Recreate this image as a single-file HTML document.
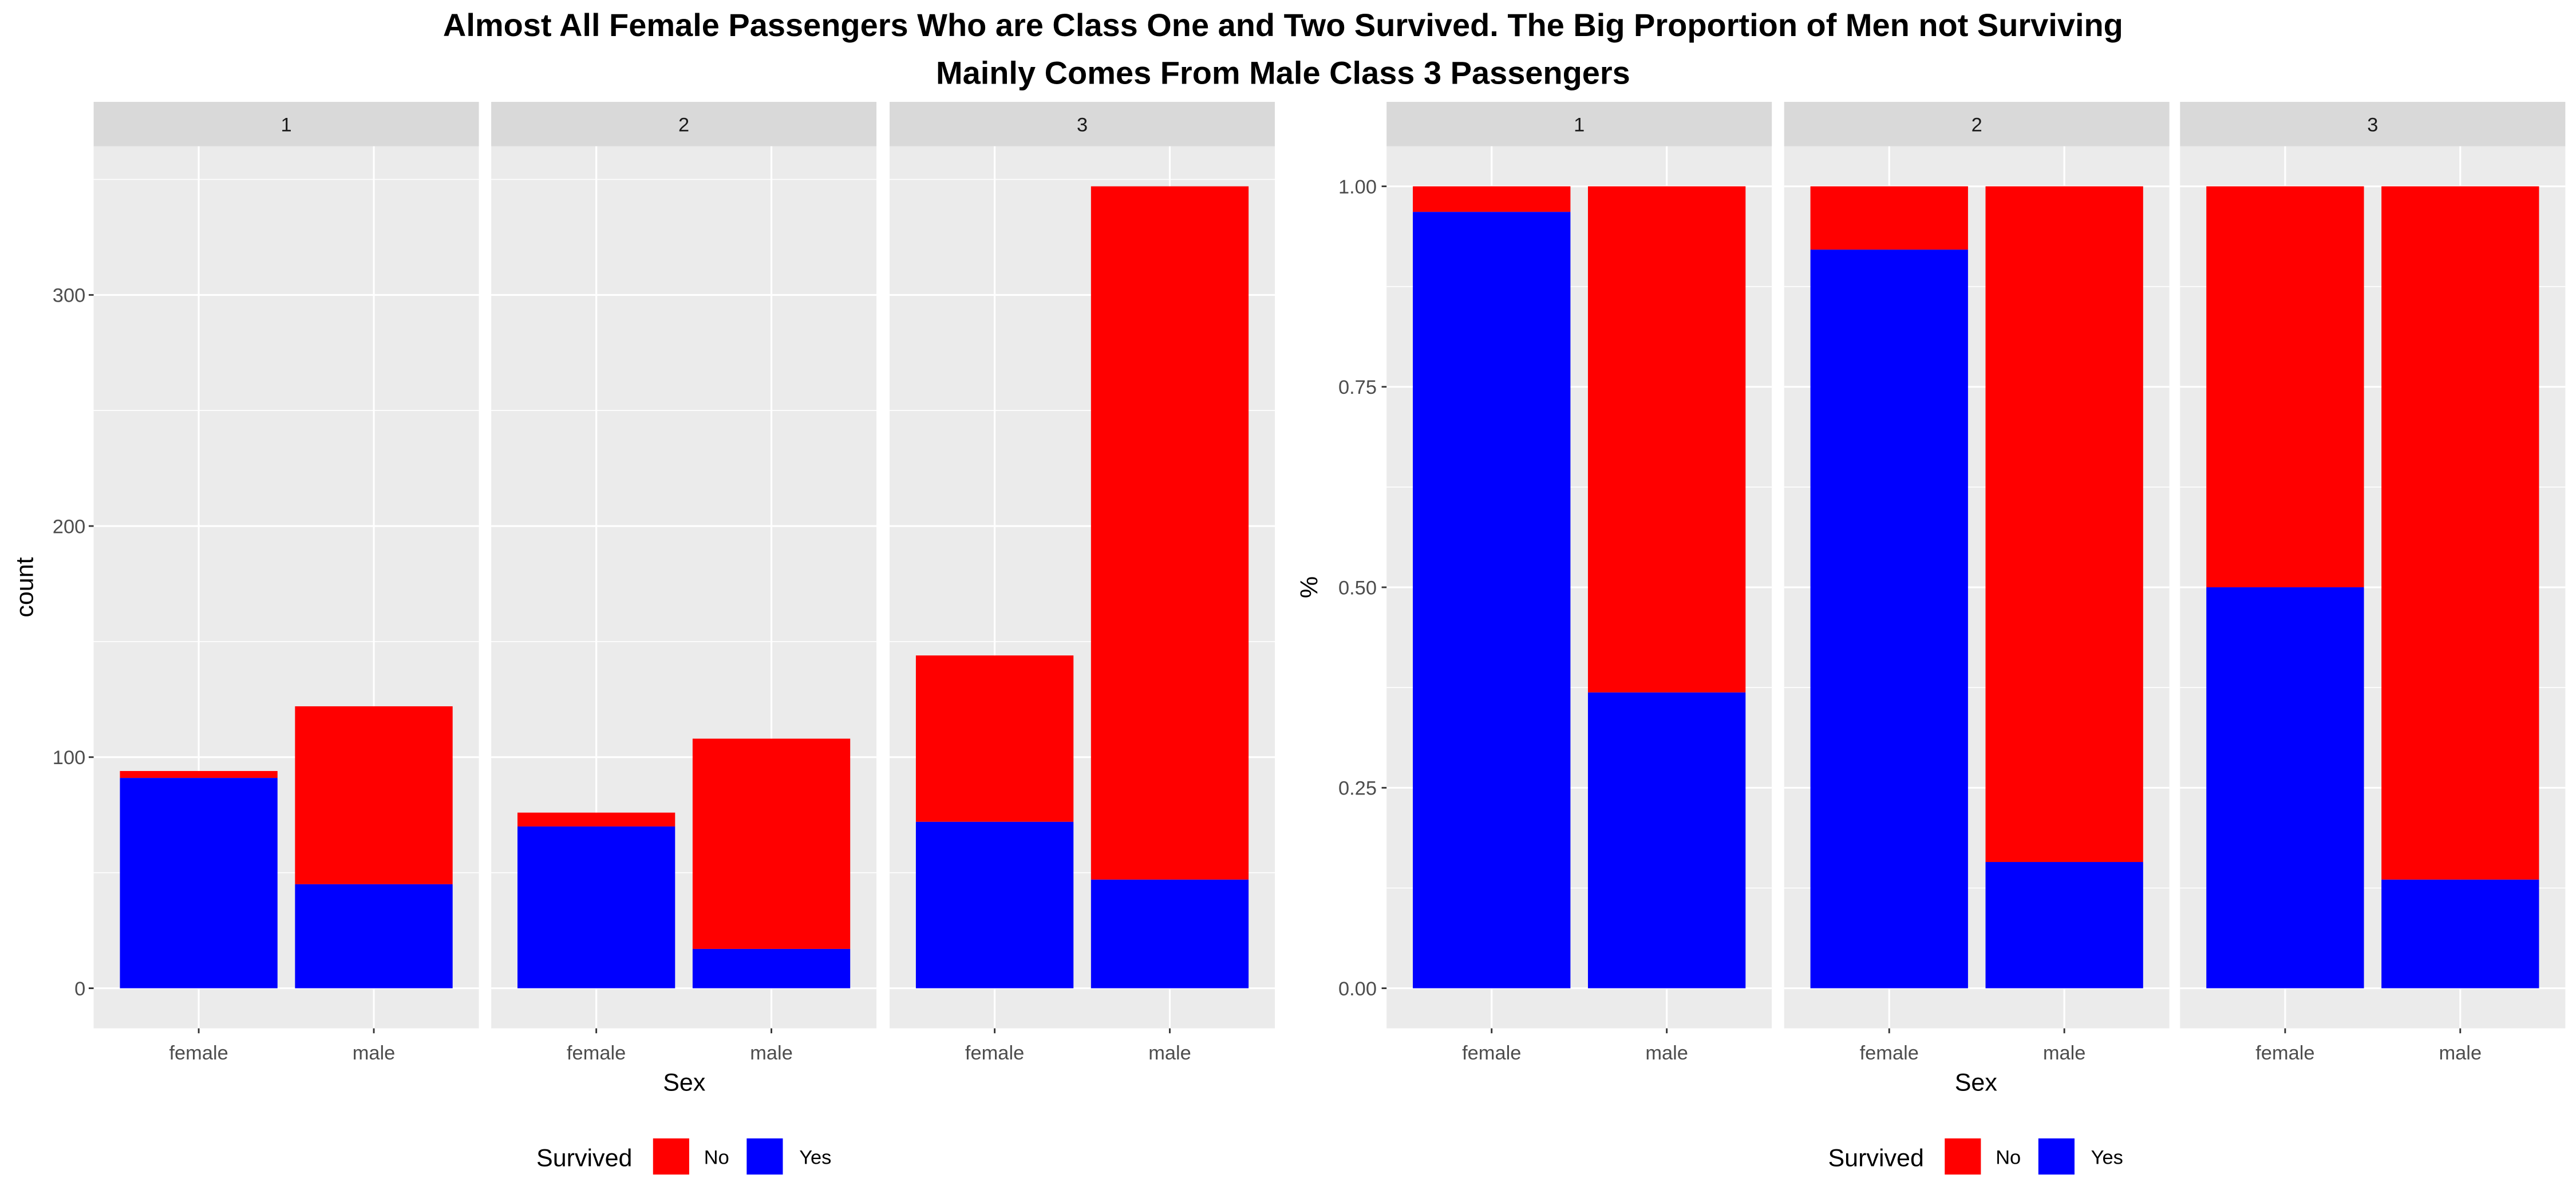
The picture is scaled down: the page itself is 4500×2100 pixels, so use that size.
<!DOCTYPE html>
<html><head><meta charset="utf-8"><style>
html,body{margin:0;padding:0;background:#fff;}
svg{display:block;font-family:"Liberation Sans",Arial,sans-serif;}
</style></head><body>
<svg id="chart" width="4500" height="2100" viewBox="0 0 1568 731.7" xmlns="http://www.w3.org/2000/svg">
<text x="781" y="22" text-anchor="middle" font-size="19.5" font-weight="bold" fill="#000">Almost All Female Passengers Who are Class One and Two Survived. The Big Proportion of Men not Surviving</text>
<text x="781" y="51" text-anchor="middle" font-size="19.5" font-weight="bold" fill="#000">Mainly Comes From Male Class 3 Passengers</text>
</svg>
<script>
const classes = ["1","2","3"];
const sexes = ["female","male"];
// counts per class: [female, male]
const survivedYes = [[91,45],[70,17],[72,47]];
const survivedNo = [[3,77],[6,91],[72,300]];
const countTicks = [0,100,200,300];
const countTickLabels = ["0","100","200","300"];
const propTicks = [0,0.25,0.5,0.75,1];
const propTickLabels = ["0.00","0.25","0.50","0.75","1.00"];

const NS = "http://www.w3.org/2000/svg";
const svg = document.getElementById("chart");
function mk(tag, attrs, parent){
  const e = document.createElementNS(NS, tag);
  for (const k in attrs) e.setAttribute(k, attrs[k]);
  (parent||svg).appendChild(e);
  return e;
}
const panelTop = 89, panelBot = 626, stripTop = 62, panelW = 234.5;

function drawPlot(prefix, panelLefts, proportional, ticks, tickLabels, yTitle, yTitleX, yLabelX){
  const g = mk("g", {});
  
  
  let dmax = 0;
  if (proportional) dmax = 1;
  else for (let c=0;c<3;c++) for (let s=0;s<2;s++) dmax = Math.max(dmax, survivedYes[c][s]+survivedNo[c][s]);
  const pad = dmax*0.05, lo = -pad, hi = dmax+pad;
  const y = v => panelBot - (v-lo)/(hi-lo)*(panelBot-panelTop);
  const minors = [];
  for (let i=0;i<ticks.length-1;i++) minors.push((ticks[i]+ticks[i+1])/2);
  const step = ticks[1]-ticks[0];
  if (ticks[ticks.length-1]+step/2 < hi) minors.push(ticks[ticks.length-1]+step/2);
  panelLefts.forEach((px, c) => {
    const x = v => px + (v - 0.4)/2.2*panelW; // v: 1 or 2 discrete
    const bg = mk("rect", {x:px, y:panelTop, width:panelW, height:panelBot-panelTop, fill:"#ebebeb"}, g);
    
    
    const st = mk("rect", {x:px, y:stripTop, width:panelW, height:panelTop-stripTop, fill:"#d9d9d9"}, g);
    
    
    const stt = mk("text", {x:px+panelW/2, y:80, "text-anchor":"middle", "font-size":12, fill:"#1a1a1a"}, g);
    stt.textContent = classes[c];
    
    
    minors.forEach(m => { const l = mk("line", {x1:px, x2:px+panelW, y1:y(m), y2:y(m), stroke:"#fff", "stroke-width":0.55}, g);
      
       });
    ticks.forEach(t => { const l = mk("line", {x1:px, x2:px+panelW, y1:y(t), y2:y(t), stroke:"#fff", "stroke-width":1.1}, g);
      
       });
    sexes.forEach((s, i) => {
      const cx = x(i+1);
      const l = mk("line", {x1:cx, x2:cx, y1:panelTop, y2:panelBot, stroke:"#fff", "stroke-width":1.1}, g);
      
      
      const yes = survivedYes[c][i], no = survivedNo[c][i], tot = yes+no;
      const yv = proportional ? yes/tot : yes;
      const tv = proportional ? 1 : tot;
      const bw = 0.9/2.2*panelW;
      const rn = mk("rect", {x:cx-bw/2, y:y(tv), width:bw, height:y(yv)-y(tv), fill:"#ff0000"}, g);
      
      
      const ry = mk("rect", {x:cx-bw/2, y:y(yv), width:bw, height:y(0)-y(yv), fill:"#0000ff"}, g);
      
      
      const tk = mk("line", {x1:cx, x2:cx, y1:panelBot, y2:panelBot+3, stroke:"#333", "stroke-width":1}, g);
      
      
      const tl = mk("text", {x:cx, y:645, "text-anchor":"middle", "font-size":12, fill:"#4d4d4d"}, g);
      tl.textContent = s;
      
      
    });
  });
  const p0 = panelLefts[0];
  ticks.forEach((t, i) => {
    const tk = mk("line", {x1:p0-3, x2:p0, y1:y(t), y2:y(t), stroke:"#333", "stroke-width":1}, g);
    
    
    const tl = mk("text", {x:yLabelX, y:y(t)+4.3, "text-anchor":"end", "font-size":12, fill:"#4d4d4d"}, g);
    tl.textContent = tickLabels[i];
    
    
  });
  const yt = mk("text", {x:yTitleX, y:(panelTop+panelBot)/2, "text-anchor":"middle", "font-size":15, fill:"#000", transform:"rotate(-90 "+yTitleX+" "+(panelTop+panelBot)/2+")"}, g);
  yt.textContent = yTitle;
  
  
  const mid = (panelLefts[0] + panelLefts[2] + panelW)/2;
  const xt = mk("text", {x:mid, y:664, "text-anchor":"middle", "font-size":15, fill:"#000"}, g);
  xt.textContent = "Sex";
  
  
  // legend
  const lx = mid - 90;
  const lg = mk("g", {}, g);
  
  
  const ltt = mk("text", {x:lx, y:710, "font-size":15, fill:"#000"}, lg);
  ltt.textContent = "Survived";
  
  
  [["No","#ff0000",71,102],["Yes","#0000ff",128,160]].forEach(([lab,col,bx,tx]) => {
    const r = mk("rect", {x:lx+bx, y:693, width:22, height:22, fill:col}, lg);
    
    
    const t = mk("text", {x:lx+tx, y:708.5, "font-size":12, fill:"#000"}, lg);
    t.textContent = lab;
    
    
  });
}
drawPlot("count", [57, 299, 541.5], false, countTicks, countTickLabels, "count", 20, 52);
drawPlot("percent", [844, 1086, 1327], true, propTicks, propTickLabels, "%", 802, 838);
</script>
</body></html>
